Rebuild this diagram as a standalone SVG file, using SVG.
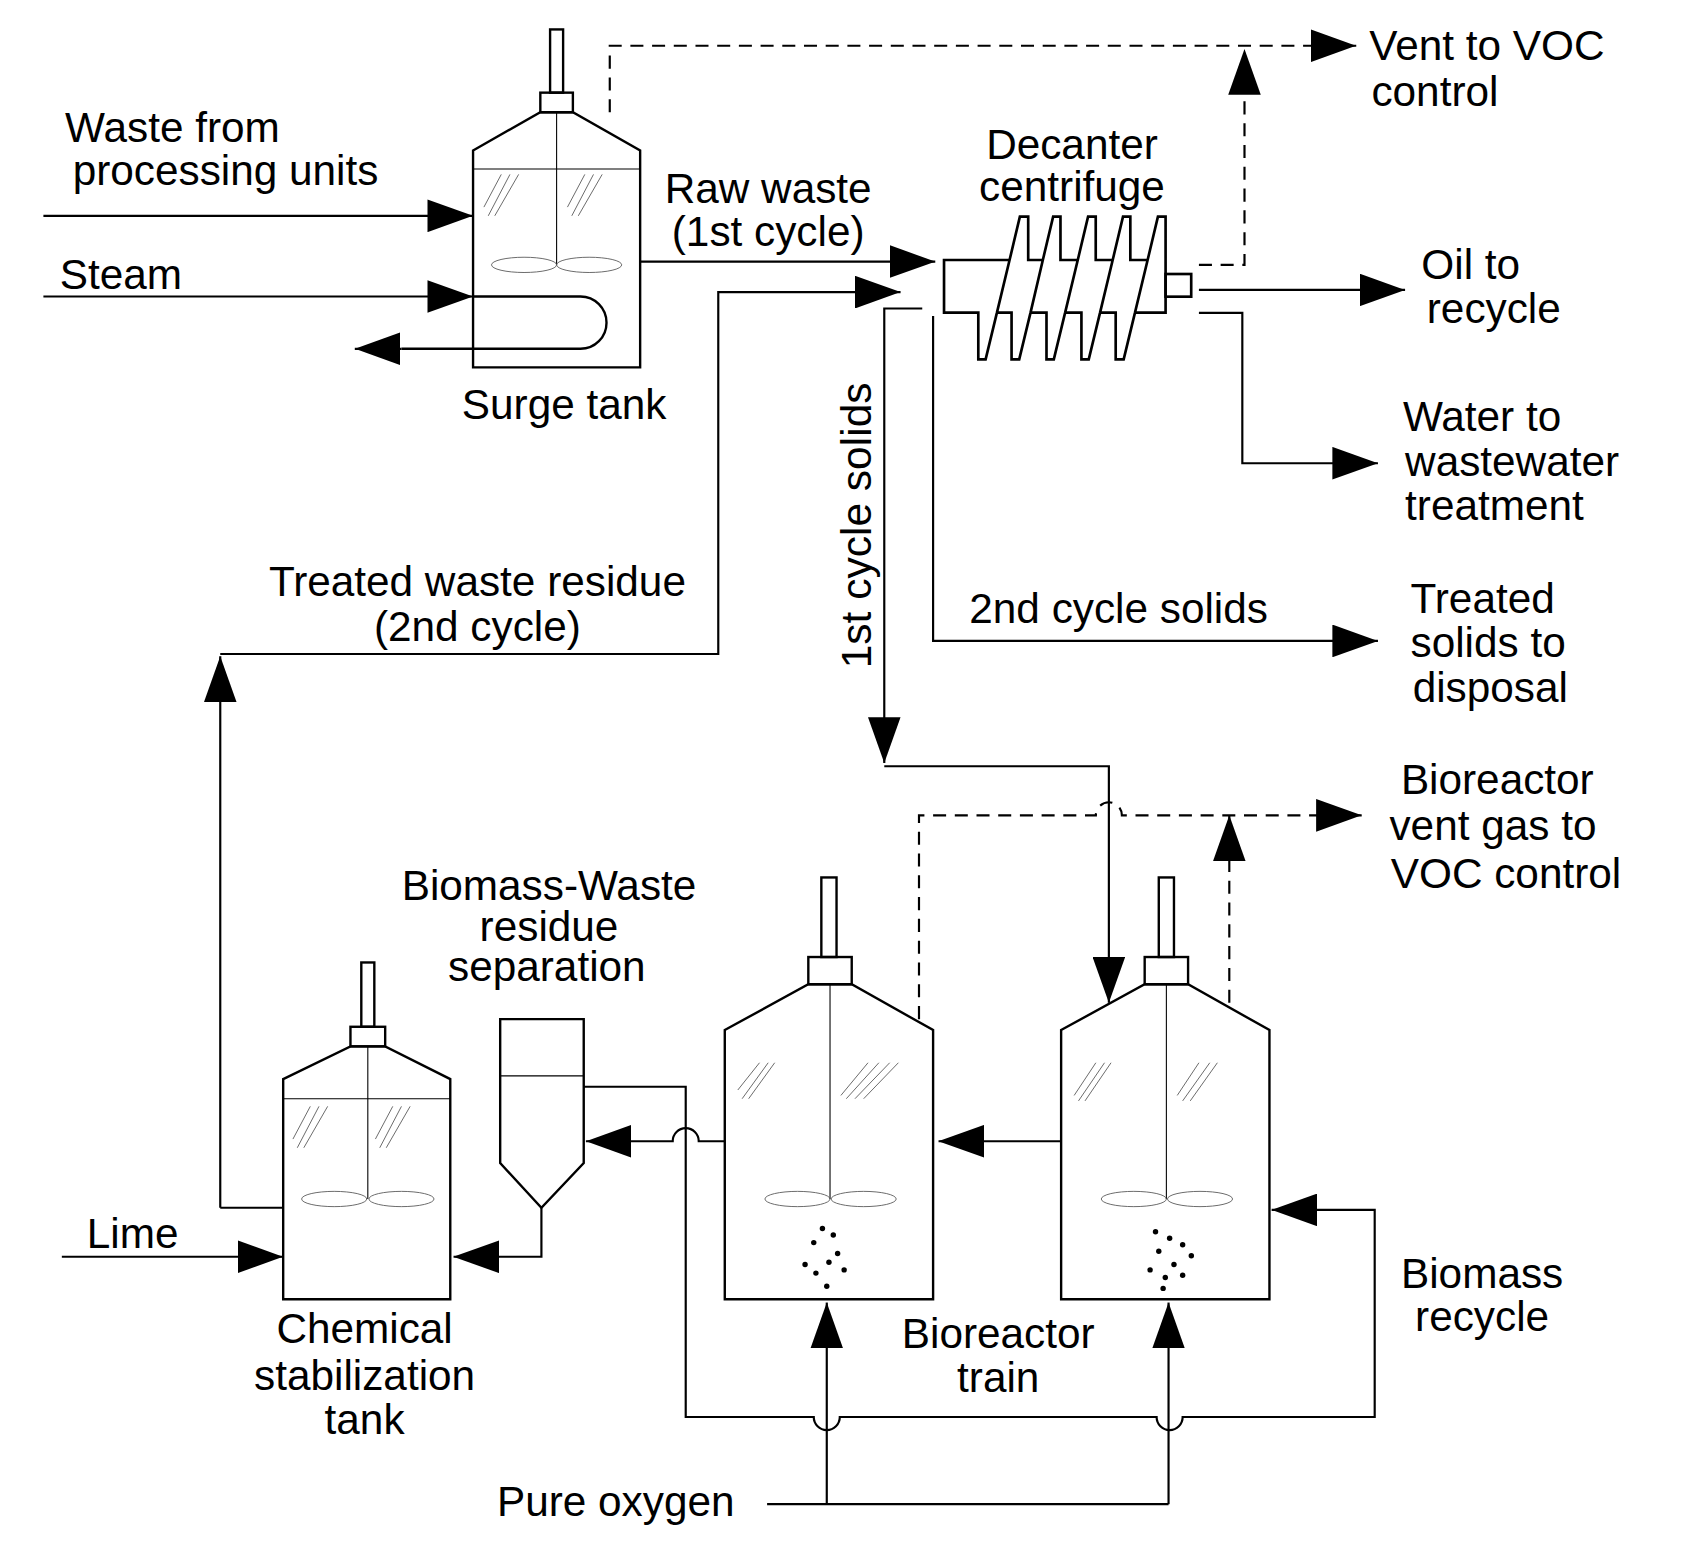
<svg xmlns="http://www.w3.org/2000/svg" width="1703" height="1544" viewBox="0 0 1703 1544">
<style>
.l{fill:none;stroke:#000;stroke-width:2}
.d{fill:none;stroke:#000;stroke-width:2;stroke-dasharray:12 8}
.t{fill:none;stroke:#000;stroke-width:2.2}
.h{fill:none;stroke:#555;stroke-width:0.8}
.th{fill:none;stroke:#000;stroke-width:1}
text{font-family:"Liberation Sans",Arial,sans-serif;font-size:39px;fill:#000}
.m{text-anchor:middle}
</style>
<defs>
<marker id="a" viewBox="0 0 14 10" refX="14" refY="5" markerWidth="42" markerHeight="30" markerUnits="userSpaceOnUse" orient="auto"><path d="M0,0 L14,5 L0,10 z" fill="#000"/></marker>
</defs>
<rect width="1703" height="1544" fill="#fff"/>
<g transform="scale(1.085,1.09)">
<g id="surge-tank">
<path class="t" d="M436,138 L498,103 L528,103 L590,138 L590,337 L436,337 Z"/>
<rect class="t" x="498" y="85" width="30" height="18"/>
<rect class="t" x="507" y="27" width="12" height="58"/>
<line class="th" x1="436" y1="155" x2="590" y2="155"/>
<line class="th" x1="513" y1="103" x2="513" y2="243"/>
<ellipse class="h" cx="483" cy="243" rx="30" ry="7"/><ellipse class="h" cx="543" cy="243" rx="30" ry="7"/>
<path class="h" d="M446,190 L462,160 M450,198 L470,160 M456,198 L478,160 M523,190 L539,160 M527,198 L547,160 M533,198 L555,160"/>
<path class="t" d="M436,272 L535,272 A24,24 0 0 1 535,320 L370,320"/>
<text x="520" y="384" class="m">Surge tank</text>
</g>
<g id="decanter" transform="translate(866.4,183.5) scale(0.3066,0.3058)">
<path fill="none" stroke="#000" stroke-width="8" d="M12,180 L209,180 L240,50 L265,50 L265,180 L309,180 L340,50 L362,50 L362,180 L414,180 L445,50 L468,50 L468,180 L519,180 L550,50 L572,50 L572,180 L624,180 L655,50 L678,50 L678,338 L586,338 L552,478 L528,478 L528,338 L481,338 L447,478 L425,478 L425,338 L376,338 L342,478 L320,478 L320,338 L272,338 L238,478 L215,478 L215,338 L171,338 L137,478 L115,478 L115,338 L12,338 Z M171,338 L209,180 M272,338 L309,180 M376,338 L414,180 M481,338 L519,180 M586,338 L624,180"/>
<rect fill="none" stroke="#000" stroke-width="8" x="678" y="222" width="77" height="68"/>
</g>
<g id="stab-tank">
<path class="t" d="M261,990 L323,960 L355,960 L415,990 L415,1192 L261,1192 Z"/>
<rect class="t" x="323" y="942" width="32" height="18"/>
<rect class="t" x="333" y="883" width="12" height="59"/>
<line class="th" x1="261" y1="1008" x2="415" y2="1008"/>
<line class="th" x1="339" y1="960" x2="339" y2="1100"/>
<ellipse class="h" cx="308" cy="1100" rx="30" ry="7"/><ellipse class="h" cx="370" cy="1100" rx="30" ry="7"/>
<path class="h" d="M270,1045 L286,1015 M274,1053 L294,1015 M280,1053 L302,1015 M346,1045 L362,1015 M350,1053 L370,1015 M356,1053 L378,1015"/>
<text x="336" y="1232" class="m">Chemical</text><text x="336" y="1275" class="m">stabilization</text><text x="336" y="1316" class="m">tank</text>
</g>
<g id="separator">
<path class="t" d="M461,935 L538,935 L538,1067 L499,1108 L461,1067 Z"/>
<line class="th" x1="461" y1="987" x2="538" y2="987"/>
<text x="506" y="826" class="m">Biomass-Waste</text><text x="506" y="863" class="m">residue</text><text x="504" y="900" class="m">separation</text>
</g>
<g id="bioreactor-1">
<path class="t" d="M668,945 L745,903 L785,903 L860,945 L860,1192 L668,1192 Z"/>
<rect class="t" x="745" y="878" width="40" height="25"/>
<rect class="t" x="757" y="805" width="14" height="73"/>
<line class="th" x1="765" y1="903" x2="765" y2="1100"/>
<ellipse class="h" cx="735" cy="1100" rx="30" ry="7"/><ellipse class="h" cx="796" cy="1100" rx="30" ry="7"/>
<path class="h" d="M680,1000 L700,975 M684,1008 L708,975 M690,1008 L714,975 M775,1005 L800,975 M780,1008 L810,975 M788,1008 L820,975 M796,1008 L828,975"/>
<g fill="#000"><circle cx="758" cy="1127" r="2.5"/><circle cx="768" cy="1133" r="2.5"/><circle cx="750" cy="1140" r="2.5"/><circle cx="772" cy="1150" r="2.5"/><circle cx="742" cy="1160" r="2.5"/><circle cx="764" cy="1158" r="2.5"/><circle cx="752" cy="1168" r="2.5"/><circle cx="778" cy="1165" r="2.5"/><circle cx="762" cy="1180" r="2.5"/></g>
</g>
<g id="bioreactor-2">
<path class="t" d="M978,945 L1055,903 L1095,903 L1170,945 L1170,1192 L978,1192 Z"/>
<rect class="t" x="1055" y="878" width="40" height="25"/>
<rect class="t" x="1068" y="805" width="14" height="73"/>
<line class="th" x1="1075" y1="903" x2="1075" y2="1100"/>
<ellipse class="h" cx="1045" cy="1100" rx="30" ry="7"/><ellipse class="h" cx="1106" cy="1100" rx="30" ry="7"/>
<path class="h" d="M990,1005 L1010,975 M994,1010 L1018,975 M1000,1010 L1024,975 M1085,1005 L1105,975 M1090,1010 L1115,975 M1097,1010 L1122,975"/>
<g fill="#000"><circle cx="1065" cy="1130" r="2.5"/><circle cx="1078" cy="1136" r="2.5"/><circle cx="1090" cy="1142" r="2.5"/><circle cx="1068" cy="1148" r="2.5"/><circle cx="1098" cy="1152" r="2.5"/><circle cx="1082" cy="1160" r="2.5"/><circle cx="1060" cy="1165" r="2.5"/><circle cx="1074" cy="1172" r="2.5"/><circle cx="1090" cy="1170" r="2.5"/><circle cx="1072" cy="1182" r="2.5"/></g>
</g>
<g id="connectors">
<line class="l" x1="40" y1="198" x2="436" y2="198" marker-end="url(#a)"/>
<line class="l" x1="40" y1="272" x2="436" y2="272" marker-end="url(#a)"/>
<line class="l" x1="370" y1="320" x2="327" y2="320" marker-end="url(#a)"/>
<path class="d" d="M562,103 L562,42 L1250,42" marker-end="url(#a)"/>
<path class="d" d="M1105,243 L1147,243 L1147,45" marker-end="url(#a)"/>
<line class="l" x1="590" y1="240" x2="862" y2="240" marker-end="url(#a)"/>
<path class="l" d="M203,1108 L203,602" marker-end="url(#a)"/>
<path class="l" d="M261,1108 L203,1108"/>
<path class="l" d="M203,600 L662,600 L662,268 L830,268" marker-end="url(#a)"/>
<path class="l" d="M850,283 L815,283 L815,700" marker-end="url(#a)"/>
<path class="l" d="M815,703 L1022,703 L1022,920" marker-end="url(#a)"/>
<path class="l" d="M860,290 L860,588 L1270,588" marker-end="url(#a)"/>
<line class="l" x1="1105" y1="266" x2="1295" y2="266" marker-end="url(#a)"/>
<path class="l" d="M1105,287 L1145,287 L1145,425 L1270,425" marker-end="url(#a)"/>
<path class="d" d="M847,935 L847,748 L1010,748 A12,12 0 0 1 1034,748 L1255,748" marker-end="url(#a)"/>
<path class="d" d="M1133,920 L1133,748" marker-end="url(#a)"/>
<line class="l" x1="978" y1="1047" x2="865" y2="1047" marker-end="url(#a)"/>
<path class="l" d="M668,1047 L644,1047 A12,12 0 0 0 620,1047 L540,1047" marker-end="url(#a)"/>
<path class="l" d="M538,997 L632,997 L632,1300 L750,1300 A12,12 0 0 0 774,1300 L1066,1300 A12,12 0 0 0 1090,1300 L1267,1300 L1267,1110 L1172,1110" marker-end="url(#a)"/>
<path class="l" d="M499,1108 L499,1153 L418,1153" marker-end="url(#a)"/>
<line class="l" x1="57" y1="1153" x2="261" y2="1153" marker-end="url(#a)"/>
<path class="l" d="M707,1380 L1077,1380"/>
<line class="l" x1="762" y1="1380" x2="762" y2="1195" marker-end="url(#a)"/>
<line class="l" x1="1077" y1="1380" x2="1077" y2="1195" marker-end="url(#a)"/>
</g>
<g id="labels">
<text x="60" y="130">Waste from</text><text x="67" y="170">processing units</text>
<text x="55" y="265">Steam</text>
<text x="708" y="186" class="m">Raw waste</text><text x="708" y="226" class="m">(1st cycle)</text>
<text x="988" y="146" class="m">Decanter</text><text x="988" y="184" class="m">centrifuge</text>
<text x="1262" y="55">Vent to VOC</text><text x="1264" y="97">control</text>
<text x="1310" y="256">Oil to</text><text x="1315" y="296">recycle</text>
<text x="1293" y="395">Water to</text><text x="1295" y="437">wastewater</text><text x="1295" y="477">treatment</text>
<text x="1300" y="562">Treated</text><text x="1300" y="603">solids to</text><text x="1302" y="644">disposal</text>
<text x="1031" y="572" class="m">2nd cycle solids</text>
<text x="440" y="547" class="m">Treated waste residue</text><text x="440" y="588" class="m">(2nd cycle)</text>
<text transform="translate(803,482) rotate(-90)" class="m">1st cycle solids</text>
<text x="1380" y="728" class="m">Bioreactor</text><text x="1376" y="771" class="m">vent gas to</text><text x="1388" y="815" class="m">VOC control</text>
<text x="80" y="1145">Lime</text>
<text x="920" y="1237" class="m">Bioreactor</text><text x="920" y="1277" class="m">train</text>
<text x="1366" y="1182" class="m">Biomass</text><text x="1366" y="1221" class="m">recycle</text>
<text x="458" y="1391">Pure oxygen</text>
</g>
</g>
</svg>
